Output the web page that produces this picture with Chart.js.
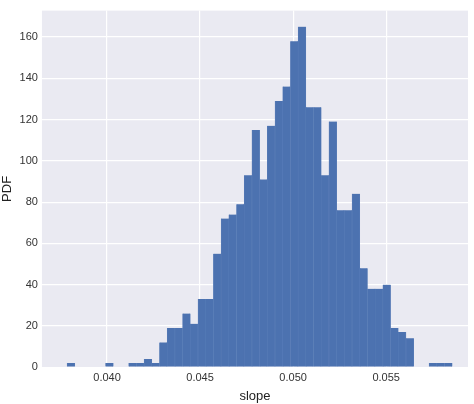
<!DOCTYPE html>
<html>
<head>
<meta charset="utf-8">
<script src="https://cdn.jsdelivr.net/npm/chart.js@4"></script>
<style>
  body { margin: 0; background: #fff; }
  #wrap { width: 474px; height: 404px; }
</style>
</head>
<body>
<div id="wrap"><canvas id="myChart"></canvas></div>
<script>
const binStart = 0.03785;
const binWidth = 0.000414;
const counts = [2, 0, 0, 0, 0, 2, 0, 0, 2, 2,
                4, 2, 12, 19, 19, 26, 21, 33, 33, 55,
                72, 74, 79, 93, 115, 91, 117, 129, 136, 158,
                165, 126, 126, 93, 119, 76, 76, 84, 48, 38,
                38, 40, 19, 17, 14, 0, 0, 2, 2, 2];
const xTicks = [0.040, 0.045, 0.050, 0.055];
const yTicks = [0, 20, 40, 60, 80, 100, 120, 140, 160];

const points = counts.map((c, i) => ({ x: binStart + binWidth * (i + 0.5), y: c }));

const bgPlugin = {
  id: 'bg',
  beforeDraw(chart) {
    const { ctx, chartArea: a } = chart;
    ctx.save();
    ctx.fillStyle = '#EAEAF2';
    ctx.fillRect(a.left, a.top, a.right - a.left, a.bottom - a.top);
    ctx.restore();
  }
};

const ctx = document.getElementById('myChart').getContext('2d');
const myChart = new Chart(ctx, {
  type: 'bar',
  data: {
    datasets: [{
      data: points,
      backgroundColor: '#4C72B0',
      borderColor: '#5A7EB8',
      borderWidth: { left: 0.5, right: 0.5, top: 0, bottom: 0 },
      barPercentage: 1,
      categoryPercentage: 1
    }]
  },
  options: {
    responsive: true,
    maintainAspectRatio: false,
    animation: false,
    layout: { padding: { top: 0, right: 6, left: 0, bottom: 0 } },
    plugins: { legend: { display: false }, tooltip: { enabled: false } },
    scales: {
      x: {
        type: 'linear',
        offset: false,
        min: 0.0365,
        max: 0.0594,
        grid: { color: '#ffffff', lineWidth: 1.2, drawTicks: false, offset: false },
        border: { display: false },
        afterBuildTicks(axis) { axis.ticks = xTicks.map(v => ({ value: v })); },
        ticks: {
          color: '#333', font: { family: 'Liberation Sans', size: 11 }, padding: 4,
          callback: v => v.toFixed(3)
        },
        title: { display: true, text: 'slope', color: '#222', font: { family: 'Liberation Sans', size: 13 }, padding: { top: 0, bottom: 0 } }
      },
      y: {
        min: 0,
        max: 172.8,
        grid: { color: '#ffffff', lineWidth: 1.2, drawTicks: false },
        border: { display: false },
        afterBuildTicks(axis) { axis.ticks = yTicks.map(v => ({ value: v })); },
        ticks: { color: '#333', font: { family: 'Liberation Sans', size: 11 }, padding: 4 },
        title: { display: true, text: 'PDF', color: '#222', font: { family: 'Liberation Sans', size: 13 }, padding: { top: 0, bottom: 0 } }
      }
    }
  },
  plugins: [bgPlugin]
});
</script>
</body>
</html>
